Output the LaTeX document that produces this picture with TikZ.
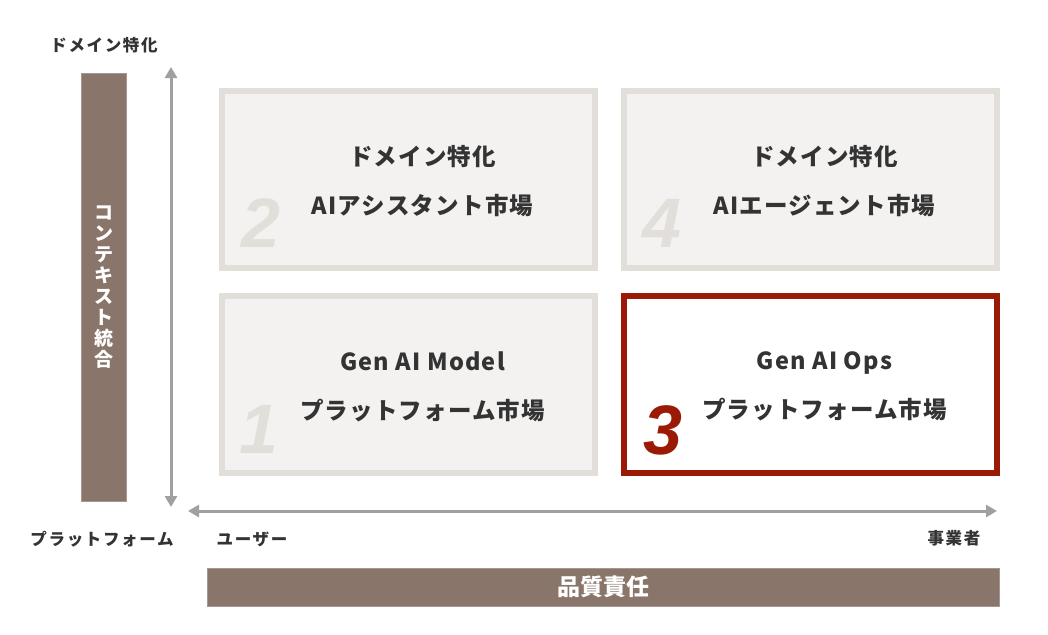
\documentclass[tikz,border=0pt]{standalone}
\usepackage{fontspec}
\usepackage{tikz}
\usetikzlibrary{arrows.meta}
\setmainfont{Noto Sans CJK JP}
\newfontfamily\numfont{Liberation Sans}
\definecolor{qbrown}{HTML}{8A756A}
\definecolor{qbarline}{HTML}{A39891}
\definecolor{qfill}{HTML}{F3F2F0}
\definecolor{qline}{HTML}{E2DFDA}
\definecolor{qred}{HTML}{9A1A05}
\definecolor{qaxis}{HTML}{A0A0A0}
\definecolor{qtext}{HTML}{333333}

\begin{document}
\begin{tikzpicture}[x=1pt,y=-1pt,
  qbox/.style={draw=qline,fill=qfill,line width=6pt,minimum width=373pt,minimum height=177pt},
  qhot/.style={qbox,draw=qred,fill=white},
  qtxt/.style={text=qtext,align=center,font=\fontsize{23.5}{49}\selectfont\bfseries\addfontfeature{LetterSpace=5}},
  qnum/.style={text=qline,font=\numfont\fontsize{70}{70}\selectfont\bfseries\itshape},
  axlabel/.style={text=qtext,font=\fontsize{16.5}{18}\selectfont\bfseries\addfontfeature{LetterSpace=10}},
  bar/.style={draw=qbarline,fill=qbrown,text=white,line width=1pt},
  axis/.style={draw=qaxis,line width=3pt,{Triangle[length=11pt,width=12pt]}-{Triangle[length=11pt,width=12pt]}}]
\useasboundingbox (0,0) rectangle (1048,634);

% quadrants
\node[qbox] (q2) at (408.5,179.5) {};
\node[qbox] (q4) at (810.5,179.5) {};
\node[qbox] (q1) at (408.5,384.5) {};
\node[qhot] (q3) at (810.5,384.5) {};

\node[qnum] (n2) at ([xshift=-148pt,yshift=-44pt]q2.center) {2};
\node[qnum] (n4) at ([xshift=-149pt,yshift=-44pt]q4.center) {4};
\node[qnum] (n1) at ([xshift=-150pt,yshift=-45pt]q1.center) {1};
\node[qnum,text=qred] (n3) at ([xshift=-148pt,yshift=-46pt]q3.center) {3};

\node[qtxt] (t2) at ([xshift=14pt,yshift=-2pt]q2.center) {ドメイン特化\\AIアシスタント市場};
\node[qtxt] (t4) at ([xshift=14pt,yshift=-2pt]q4.center) {ドメイン特化\\AIエージェント市場};
\node[qtxt] (t1) at ([xshift=14pt,yshift=-2pt]q1.center) {Gen AI Model\\プラットフォーム市場};
\node[qtxt] (t3) at ([xshift=14pt,yshift=-2pt]q3.center) {Gen AI Ops\\プラットフォーム市場};

% bars
\node[bar,minimum width=45pt,minimum height=428pt,align=center,
  font=\fontsize{19}{21}\selectfont\bfseries] (ctx) at (104,287.5)
  {コ\\ン\\テ\\キ\\ス\\ト\\統\\合};
\node[bar,minimum width=792pt,minimum height=38pt,
  font=\fontsize{23}{26}\selectfont\bfseries] (qual) at (603,587) {品質責任};

% axes
\coordinate (ytop) at (171,67);
\coordinate (ybot) at (171,507);
\coordinate (xleft) at (188,511);
\coordinate (xright) at (997,511);
\draw[axis] (ytop) -- (ybot);
\draw[axis] (xleft) -- (xright);

\node[axlabel] (ltop) at (104,45) {ドメイン特化};
\node[axlabel] (lplat) at (102,539) {プラットフォーム};
\node[axlabel] (luser) at (252,539) {ユーザー};
\node[axlabel] (lbiz) at (954,538) {事業者};
\end{tikzpicture}
\end{document}
